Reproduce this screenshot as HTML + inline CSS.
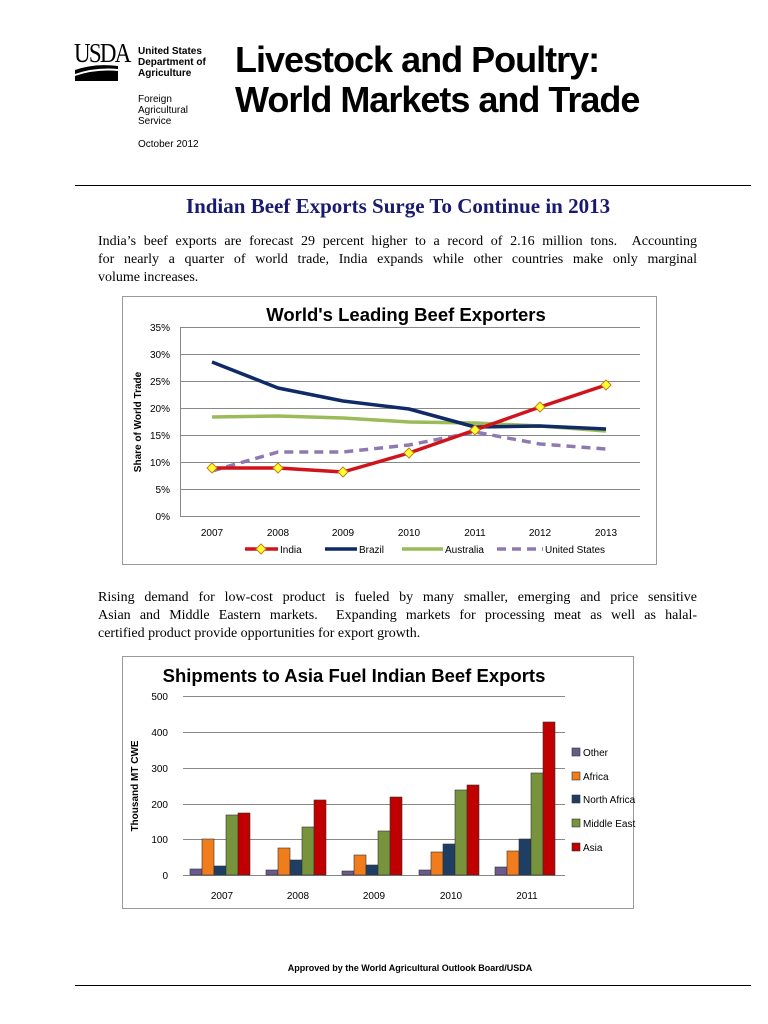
<!DOCTYPE html>
<html><head><meta charset="utf-8"><style>
body{margin:0;width:768px;height:1024px;background:#fff;position:relative;overflow:hidden;font-family:"Liberation Sans",sans-serif}
.a{position:absolute;white-space:nowrap}
.p{position:absolute;left:98px;width:599px;font-family:"Liberation Serif",serif;font-size:14px;line-height:18px;color:#000}
.p div{text-align:justify;text-align-last:justify;white-space:nowrap}
.p div.l{text-align-last:left}
</style></head><body>
<div class="a" style="left:74px;top:38px;font-size:27px;letter-spacing:-2px;font-family:'Liberation Serif',serif;transform:scaleX(0.85);transform-origin:left">USDA</div>
<svg class="a" style="left:75px;top:64px" width="44" height="18"><path d="M0 6 Q20 -1 43 2 L43 5 Q20 3 0 10Z M0 12 Q20 5 43 7 L43 17 L0 17Z" fill="#000"/></svg>
<div class="a" style="left:138px;top:46px;font-size:10px;font-weight:bold;line-height:11px">United States<br>Department of<br>Agriculture</div>
<div class="a" style="left:138px;top:94px;font-size:10px;line-height:11px">Foreign<br>Agricultural<br>Service</div>
<div class="a" style="left:138px;top:139px;font-size:10px">October 2012</div>
<div class="a" style="left:235px;top:40px;font-size:36px;font-weight:bold;line-height:40px;letter-spacing:-1px">Livestock and Poultry:<br>World Markets and Trade</div>
<div class="a" style="left:75px;top:185px;width:676px;height:1px;background:#000"></div>
<div class="a" style="left:0;width:796px;top:194px;text-align:center;font-family:'Liberation Serif',serif;font-weight:bold;font-size:21px;color:#1a1a6e">Indian Beef Exports Surge To Continue in 2013</div>
<div class="p" style="top:233px"><div>India’s beef exports are forecast 29 percent higher to a record of 2.16 million tons.&nbsp; Accounting</div><div>for nearly a quarter of world trade, India expands while other countries make only marginal</div><div class="l">volume increases.</div></div>
<div class="p" style="top:589px"><div>Rising demand for low-cost product is fueled by many smaller, emerging and price sensitive</div><div>Asian and Middle Eastern markets.&nbsp; Expanding markets for processing meat as well as halal-</div><div class="l">certified product provide opportunities for export growth.</div></div>
<svg class="a" style="left:0;top:0" width="768" height="1024" font-family="Liberation Sans, sans-serif">
<rect x="122.5" y="296.5" width="534" height="268" fill="#fff" stroke="#999"/>
<text x="406" y="321" font-size="18.5" font-weight="bold" text-anchor="middle">World's Leading Beef Exporters</text>
<g stroke="#888" stroke-width="1">
<line x1="180" x2="640" y1="327.5" y2="327.5"/><line x1="180" x2="640" y1="354.5" y2="354.5"/><line x1="180" x2="640" y1="381.5" y2="381.5"/><line x1="180" x2="640" y1="408.5" y2="408.5"/><line x1="180" x2="640" y1="435.5" y2="435.5"/><line x1="180" x2="640" y1="462.5" y2="462.5"/><line x1="180" x2="640" y1="489.5" y2="489.5"/><line x1="180" x2="640" y1="516.5" y2="516.5"/><line x1="180.5" x2="180.5" y1="327" y2="517"/>
</g>
<g font-size="10" text-anchor="end"><text x="170" y="331">35%</text><text x="170" y="358">30%</text><text x="170" y="385">25%</text><text x="170" y="412">20%</text><text x="170" y="439">15%</text><text x="170" y="466">10%</text><text x="170" y="493">5%</text><text x="170" y="520">0%</text></g>
<text transform="translate(141,422) rotate(-90)" font-size="10" font-weight="bold" text-anchor="middle">Share of World Trade</text>
<g font-size="10" text-anchor="middle"><text x="212" y="536">2007</text><text x="278" y="536">2008</text><text x="343" y="536">2009</text><text x="409" y="536">2010</text><text x="475" y="536">2011</text><text x="540" y="536">2012</text><text x="606" y="536">2013</text></g>
<g fill="none" stroke-width="3.5" stroke-linejoin="round">
<polyline stroke="#9bbb59" points="212,417 278,416 343,418 409,422 475,423 540,426 606,431"/>
<polyline stroke="#9079b0" stroke-dasharray="9,6" points="212,471 278,452 343,452 409,445 475,432 540,444 606,449"/>
<polyline stroke="#0f2a66" points="212,362 278,388 343,401 409,409 475,427 540,426 606,429"/>
<polyline stroke="#d0141c" points="212,468 278,468 343,472 409,453 475,430 540,407 606,385"/>
</g>
<g fill="#ffff33" stroke="#c0801a" stroke-width="1">
<path d="M212 463l5 5-5 5-5-5z"/><path d="M278 463l5 5-5 5-5-5z"/><path d="M343 467l5 5-5 5-5-5z"/><path d="M409 448l5 5-5 5-5-5z"/><path d="M475 425l5 5-5 5-5-5z"/><path d="M540 402l5 5-5 5-5-5z"/><path d="M606 380l5 5-5 5-5-5z"/>
</g>
<g font-size="10">
<line x1="245" x2="278" y1="549" y2="549" stroke="#d0141c" stroke-width="3.5"/><path d="M261 544l5 5-5 5-5-5z" fill="#ffff33" stroke="#c0801a"/><text x="280" y="553">India</text>
<line x1="325" x2="357" y1="549" y2="549" stroke="#0f2a66" stroke-width="3.5"/><text x="359" y="553">Brazil</text>
<line x1="402" x2="443" y1="549" y2="549" stroke="#9bbb59" stroke-width="3.5"/><text x="445" y="553">Australia</text>
<line x1="497" x2="543" y1="549" y2="549" stroke="#9079b0" stroke-width="3.5" stroke-dasharray="9,6"/><text x="545" y="553">United States</text>
</g>
<rect x="122.5" y="656.5" width="511" height="252" fill="#fff" stroke="#999"/>
<text x="354" y="682" font-size="18.5" font-weight="bold" text-anchor="middle">Shipments to Asia Fuel Indian Beef Exports</text>
<g stroke="#888"><line x1="183" x2="565" y1="696.5" y2="696.5"/><line x1="183" x2="565" y1="732.5" y2="732.5"/><line x1="183" x2="565" y1="768.5" y2="768.5"/><line x1="183" x2="565" y1="804.5" y2="804.5"/><line x1="183" x2="565" y1="839.5" y2="839.5"/><line x1="183" x2="565" y1="875.5" y2="875.5"/></g>
<g font-size="10" text-anchor="end"><text x="168" y="700">500</text><text x="168" y="736">400</text><text x="168" y="772">300</text><text x="168" y="808">200</text><text x="168" y="843">100</text><text x="168" y="879">0</text></g>
<text transform="translate(138,786) rotate(-90)" font-size="10" font-weight="bold" text-anchor="middle">Thousand MT CWE</text>
<g font-size="10" text-anchor="middle"><text x="222" y="899">2007</text><text x="298" y="899">2008</text><text x="374" y="899">2009</text><text x="451" y="899">2010</text><text x="527" y="899">2011</text></g>
<g stroke="#333" stroke-width="0.6">
<rect x="190" y="869" width="12" height="6" fill="#6a5a8e"/><rect x="202" y="839" width="12" height="36" fill="#f07c1c"/><rect x="214" y="866" width="12" height="9" fill="#1f3e64"/><rect x="226" y="815" width="12" height="60" fill="#77933c"/><rect x="238" y="813" width="12" height="62" fill="#c00000"/>
<rect x="266" y="870" width="12" height="5" fill="#6a5a8e"/><rect x="278" y="848" width="12" height="27" fill="#f07c1c"/><rect x="290" y="860" width="12" height="15" fill="#1f3e64"/><rect x="302" y="827" width="12" height="48" fill="#77933c"/><rect x="314" y="800" width="12" height="75" fill="#c00000"/>
<rect x="342" y="871" width="12" height="4" fill="#6a5a8e"/><rect x="354" y="855" width="12" height="20" fill="#f07c1c"/><rect x="366" y="865" width="12" height="10" fill="#1f3e64"/><rect x="378" y="831" width="12" height="44" fill="#77933c"/><rect x="390" y="797" width="12" height="78" fill="#c00000"/>
<rect x="419" y="870" width="12" height="5" fill="#6a5a8e"/><rect x="431" y="852" width="12" height="23" fill="#f07c1c"/><rect x="443" y="844" width="12" height="31" fill="#1f3e64"/><rect x="455" y="790" width="12" height="85" fill="#77933c"/><rect x="467" y="785" width="12" height="90" fill="#c00000"/>
<rect x="495" y="867" width="12" height="8" fill="#6a5a8e"/><rect x="507" y="851" width="12" height="24" fill="#f07c1c"/><rect x="519" y="839" width="12" height="36" fill="#1f3e64"/><rect x="531" y="773" width="12" height="102" fill="#77933c"/><rect x="543" y="722" width="12" height="153" fill="#c00000"/>
</g>
<g font-size="10" stroke-width="0.6">
<rect x="572" y="748" width="8" height="8" fill="#6a5a8e" stroke="#333"/><text x="583" y="756">Other</text>
<rect x="572" y="772" width="8" height="8" fill="#f07c1c" stroke="#333"/><text x="583" y="780">Africa</text>
<rect x="572" y="795" width="8" height="8" fill="#1f3e64" stroke="#333"/><text x="583" y="803">North Africa</text>
<rect x="572" y="819" width="8" height="8" fill="#77933c" stroke="#333"/><text x="583" y="827">Middle East</text>
<rect x="572" y="843" width="8" height="8" fill="#c00000" stroke="#333"/><text x="583" y="851">Asia</text>
</g>
</svg>
<div class="a" style="left:0;width:820px;top:963px;text-align:center;font-size:9px;font-weight:bold">Approved by the World Agricultural Outlook Board/USDA</div>
<div class="a" style="left:75px;top:985px;width:676px;height:1px;background:#000"></div>
</body></html>
